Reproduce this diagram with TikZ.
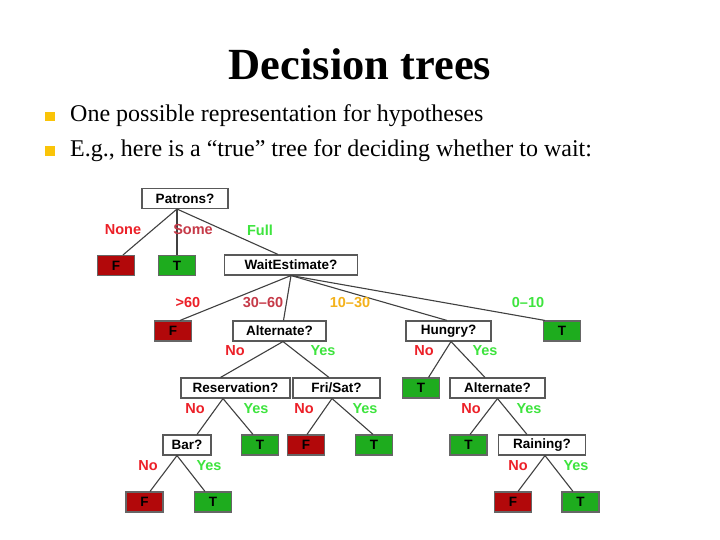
\documentclass[tikz,border=0pt]{standalone}
\usepackage{fontspec}
\setmainfont{Liberation Serif}
\setsansfont{Liberation Sans}
\usepackage{tikz}
\usetikzlibrary{positioning,calc}

\definecolor{bulletyellow}{RGB}{250,196,8}
\definecolor{leafred}{RGB}{178,8,10}
\definecolor{leafgreen}{RGB}{30,172,30}
\definecolor{nored}{RGB}{236,32,40}
\definecolor{midred}{RGB}{198,58,72}
\definecolor{yesgreen}{RGB}{62,228,62}
\definecolor{midorange}{RGB}{244,178,28}

\tikzset{
  test/.style={draw=black!65,fill=white,line width=1.1pt,inner sep=0pt,
    minimum height=20,font=\sffamily\bfseries\fontsize{13.5}{14}\selectfont},
  leafF/.style={draw=black!60,fill=leafred,line width=1.1pt,inner sep=0pt,
    minimum width=37,minimum height=20,font=\sffamily\bfseries\fontsize{13.5}{14}\selectfont},
  leafT/.style={leafF,fill=leafgreen},
  lbl/.style={inner sep=0pt,font=\sffamily\bfseries\fontsize{14.5}{15}\selectfont},
  edge/.style={draw=black!75,line width=1.1pt},
  bullettext/.style={anchor=base west,inner sep=0pt,font=\fontsize{24}{26}\selectfont}
}

\begin{document}
\begin{tikzpicture}[x=1pt,y=-1pt]
  \useasboundingbox[fill=white] (0,0) rectangle (720,540);

  % Title and bullets
  \node[anchor=base,inner sep=0pt,font=\bfseries\fontsize{44.5}{48}\selectfont] (title) at (360,80) {Decision trees};
  \fill[bulletyellow] (45,112) rectangle (55,121.5);
  \node[bullettext] (b1) at (70,122) {One possible representation for hypotheses};
  \fill[bulletyellow] (45,146.5) rectangle (55,156);
  \node[bullettext] (b2) at (70,157) {E.g., here is a ``true'' tree for deciding whether to wait:};

  % Level 1
  \node[test,minimum width=86] (pat) at (185,198.5) {Patrons?};

  % Level 2
  \node[leafF] (f1) at (116,265.5) {F};
  \node[leafT] (t1) at (177,265.5) {T};
  \node[test,minimum width=133] (wait) at (291,265) {WaitEstimate?};
  \draw[edge] ([xshift=-8]pat.south) -- ([xshift=7]f1.north);
  \draw[edge] ([xshift=-8]pat.south) -- (t1.north);
  \draw[edge] ([xshift=-8]pat.south) -- ([xshift=-13]wait.north);
  \node[lbl,text=nored] (l1) at (123,230) {None};
  \node[lbl,text=midred] (l2) at (193,230) {Some};
  \node[lbl,text=yesgreen] (l3) at (260,230) {Full};

  % Level 3
  \node[leafF] (f2) at (173,331) {F};
  \node[test,minimum width=93] (alt) at (279.5,331) {Alternate?};
  \node[test,minimum width=85] (hun) at (448.5,331) {Hungry?};
  \node[leafT] (t2) at (562,331) {T};
  \draw[edge] (wait.south) -- ([xshift=7]f2.north);
  \draw[edge] (wait.south) -- ([xshift=4]alt.north);
  \draw[edge] (wait.south) -- ([xshift=-1.5]hun.north);
  \draw[edge] (wait.south) -- ([xshift=-17]t2.north);
  \node[lbl,text=nored] (l4) at (188,303) {>60};
  \node[lbl,text=midred] (l5) at (263,303) {30--60};
  \node[lbl,text=midorange] (l6) at (350,303) {10--30};
  \node[lbl,text=yesgreen] (l7) at (528,303) {0--10};

  % Level 4
  \node[test,minimum width=109] (res) at (235.5,388) {Reservation?};
  \node[test,minimum width=87] (fri) at (336.5,388) {Fri/Sat?};
  \node[leafT] (t3) at (421,388) {T};
  \node[test,minimum width=95] (alt2) at (497.5,388) {Alternate?};
  \draw[edge] ([xshift=3.5]alt.south) -- ([xshift=-15]res.north);
  \draw[edge] ([xshift=3.5]alt.south) -- ([xshift=-7.5]fri.north);
  \draw[edge] ([xshift=2.5]hun.south) -- ([xshift=7.5]t3.north);
  \draw[edge] ([xshift=2.5]hun.south) -- ([xshift=-12.5]alt2.north);
  \node[lbl,text=nored] (l8) at (235,351) {No};
  \node[lbl,text=yesgreen] (l9) at (323,351) {Yes};
  \node[lbl,text=nored] (l10) at (424,351) {No};
  \node[lbl,text=yesgreen] (l11) at (485,351) {Yes};

  % Level 5
  \node[test,minimum width=48] (bar) at (187,445) {Bar?};
  \node[leafT] (t4) at (260,445) {T};
  \node[leafF] (f3) at (306,445) {F};
  \node[leafT] (t5) at (374,445) {T};
  \node[leafT] (t6) at (468.5,445) {T};
  \node[test,minimum width=87] (rain) at (542,445) {Raining?};
  \draw[edge] ([xshift=-12.5]res.south) -- ([xshift=10]bar.north);
  \draw[edge] ([xshift=-12.5]res.south) -- ([xshift=-7]t4.north);
  \draw[edge] ([xshift=-4.5]fri.south) -- ([xshift=1]f3.north);
  \draw[edge] ([xshift=-4.5]fri.south) -- ([xshift=-1]t5.north);
  \draw[edge] (alt2.south) -- ([xshift=1.5]t6.north);
  \draw[edge] (alt2.south) -- ([xshift=-15]rain.north);
  \node[lbl,text=nored] (l12) at (195,409) {No};
  \node[lbl,text=yesgreen] (l13) at (256,409) {Yes};
  \node[lbl,text=nored] (l14) at (304,409) {No};
  \node[lbl,text=yesgreen] (l15) at (365,409) {Yes};
  \node[lbl,text=nored] (l16) at (471,409) {No};
  \node[lbl,text=yesgreen] (l17) at (529,409) {Yes};

  % Level 6
  \node[leafF] (f4) at (144.5,502) {F};
  \node[leafT] (t7) at (213,502) {T};
  \node[leafF] (f5) at (513,502) {F};
  \node[leafT] (t8) at (580.5,502) {T};
  \draw[edge] ([xshift=-10]bar.south) -- ([xshift=5.5]f4.north);
  \draw[edge] ([xshift=-10]bar.south) -- ([xshift=-8]t7.north);
  \draw[edge] ([xshift=3]rain.south) -- ([xshift=5]f5.north);
  \draw[edge] ([xshift=3]rain.south) -- ([xshift=-7.5]t8.north);
  \node[lbl,text=nored] (l18) at (148,466) {No};
  \node[lbl,text=yesgreen] (l19) at (209,466) {Yes};
  \node[lbl,text=nored] (l20) at (518,466) {No};
  \node[lbl,text=yesgreen] (l21) at (576,466) {Yes};
\end{tikzpicture}
\end{document}
